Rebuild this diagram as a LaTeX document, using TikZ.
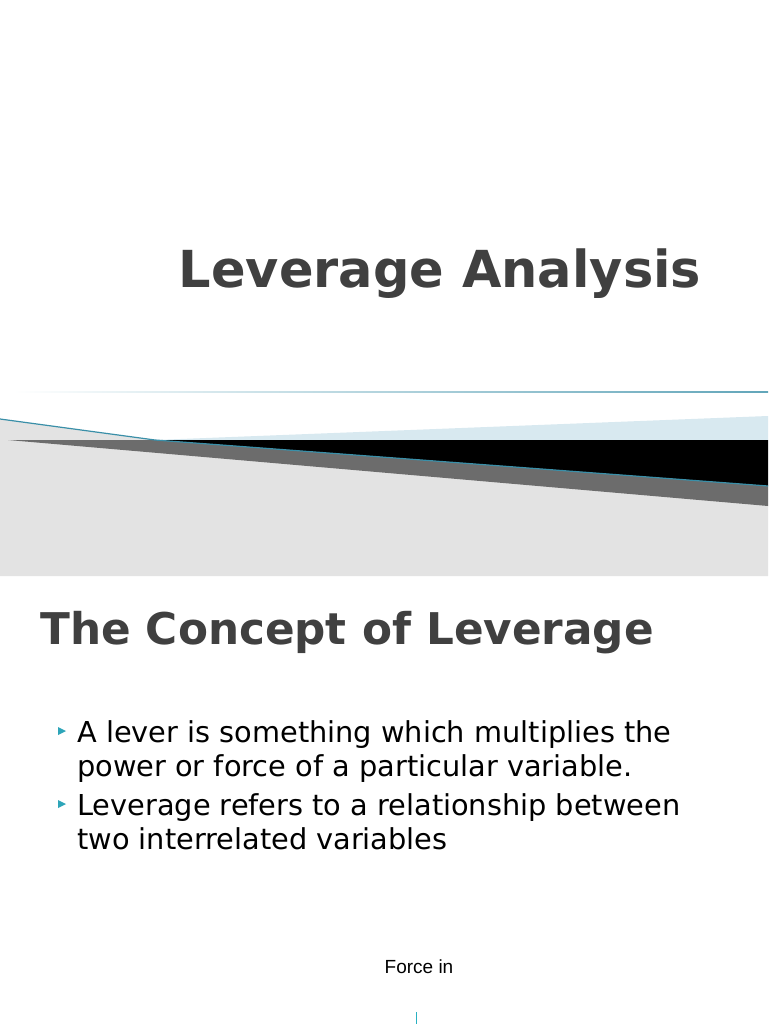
\documentclass[tikz,border=0pt]{standalone}
\usepackage{fontspec}
\setmainfont{DejaVu Sans}
\newfontfamily\arialf{Liberation Sans}
\begin{document}
\begin{tikzpicture}[x=1pt,y=-1pt]
\definecolor{tgrey}{HTML}{404040}
\definecolor{teal1}{HTML}{3A8FA8}
\definecolor{lblue}{HTML}{D8E9F0}
\tikzset{bul/.style={anchor=base west,font=\fontsize{28.8}{34}\selectfont,text=black,inner sep=0pt},
 tri/.style={fill=teal1!80!cyan}}
\useasboundingbox (0,0) rectangle (768,1024);
\fill[white] (0,0) rectangle (768,1024);
% top rule
\shade[left color=white,right color=teal1!80] (13,391) rectangle (768,392);
% light grey band
\fill[gray!22] (0,419) -- (155,440) -- (768,486) -- (768,576) -- (0,576) -- cycle;
% light blue
\fill[lblue] (155,440) -- (768,416) -- (768,440) -- cycle;
% black
\fill[black] (155,440) -- (768,440) -- (768,486) -- cycle;
% dark grey
\fill[gray!85!black] (8,440) -- (155,440) -- (768,486) -- (768,506) -- cycle;
\draw[teal1,line width=1.2] (0,419) -- (155,440) -- (768,486);
% titles
\node[anchor=base,text=tgrey,font=\fontsize{51}{60}\selectfont\bfseries] (title) at (440,287) {Leverage Analysis};
\node[anchor=base west,text=tgrey,font=\fontsize{43.7}{50}\selectfont\bfseries,inner sep=0pt] (head) at (40,644) {The Concept of Leverage};
% bullets
\fill[tri] (58,727) -- (66,731) -- (58,735) -- cycle;
\node[bul] (b1) at (77,742) {A lever is something which multiplies the};
\node[bul] (b1b) at (77,776) {power or force of a particular variable.};
\fill[tri] (58,800) -- (66,804) -- (58,808) -- cycle;
\node[bul] (b2) at (77,815) {Leverage refers to a relationship between};
\node[bul] (b2b) at (77,849) {two interrelated variables};
\node[anchor=base,font=\arialf\fontsize{19}{22}\selectfont] (force) at (419,973) {Force in};
\coordinate (lt) at (416,1012);
\coordinate (lb) at (416,1024);
\draw[teal1!70!cyan,line width=1] (lt) -- (lb);
\end{tikzpicture}
\end{document}
